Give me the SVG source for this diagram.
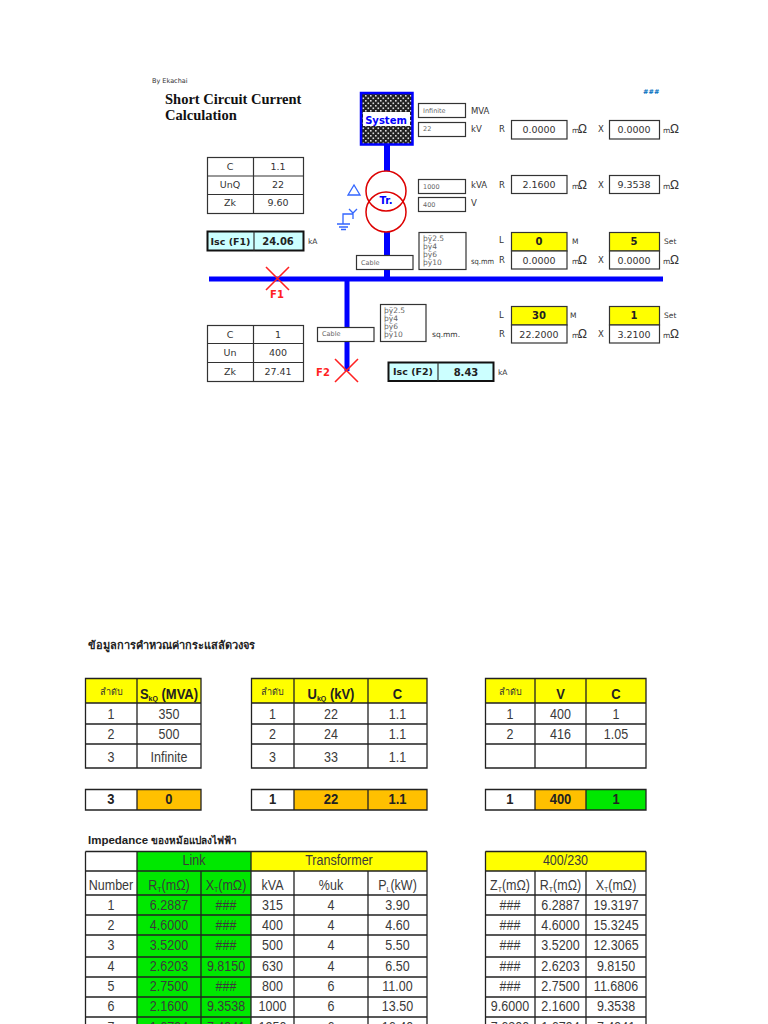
<svg xmlns="http://www.w3.org/2000/svg" width="768" height="1024" viewBox="0 0 768 1024">
<style>
text{font-family:"DejaVu Sans",Verdana,sans-serif;fill:#333}
.c{text-anchor:middle}
.l{font-size:8.5px}
.v{font-size:9.5px;text-anchor:middle}
.s{font-size:6.5px;fill:#666}
.p{font-size:7.5px;fill:#666}
.u{font-size:7.5px}
.om{font-size:12px;font-family:"Liberation Sans",Arial,sans-serif}
.b{fill:#fff;stroke:#333;stroke-width:1.2}
.y{fill:#ff0;stroke:#333;stroke-width:1.2}
.i{fill:#ccffff;stroke:#111;stroke-width:2}
.in{stroke:#333;stroke-width:1.2}
.isc{font-size:9.5px;font-weight:bold;fill:#222;text-anchor:middle}
.iv{font-size:10px;font-weight:bold;fill:#222;text-anchor:middle}
.bus{stroke:#00f;fill:none}
.x{stroke:#f22;stroke-width:1.6}
.f{font-size:10px;font-weight:bold;fill:#f22;text-anchor:middle}
.g{fill:none;stroke:#d00;stroke-width:1.5}
.sym{fill:none;stroke:#36f;stroke-width:1.3}
.g1{fill:#fff}.yf{fill:#ff0}.or{fill:#ffc000}.gr{fill:#00e800}
.grid{stroke:#222;stroke-width:1.3;fill:none}
.t,.h,.tb{transform-box:fill-box;transform-origin:center;transform:scaleY(1.15)}
.t{font-family:"Liberation Sans",Arial,sans-serif;font-size:12.5px;text-anchor:middle;fill:#3a3a3a}
.h{font-family:"Liberation Sans",Arial,sans-serif;font-size:13px;font-weight:bold;text-anchor:middle;fill:#222}
.k{font-family:"Noto Sans",sans-serif;font-size:9px;text-anchor:middle;fill:#333}
.tb{font-family:"Liberation Sans",Arial,sans-serif;font-size:13px;font-weight:bold;text-anchor:middle;fill:#222}
.d{font-size:7px;baseline-shift:-2px}
</style>
<defs>
<pattern id="hatch" width="5" height="5" patternUnits="userSpaceOnUse">
<rect width="5" height="5" fill="#222"/>
<rect x="0" y="0" width="1.6" height="1.6" fill="#ddd"/>
<rect x="2.5" y="2.5" width="1.6" height="1.6" fill="#ddd"/>
</pattern>
</defs>

<text x="152" y="83" font-size="6.500">By Ekachai</text>
<text x="643" y="94" font-size="6.500" font-weight="bold" style="fill:#0070c0">###</text>
<g id="title"><text x="165" y="104" style="font-family:'Liberation Serif','Times New Roman',serif;font-size:14.500px;font-weight:bold;fill:#111">Short Circuit Current</text>
<text x="165" y="120" style="font-family:'Liberation Serif','Times New Roman',serif;font-size:14.500px;font-weight:bold;fill:#111">Calculation</text></g>

<g id="connectors">
<path class="bus" stroke-width="6" d="M387 145V171M387 232V279"/>
<path class="bus" stroke-width="5" d="M209 279H663M347 279V371"/>
</g>

<g id="system">
<rect x="361" y="93" width="51.500" height="51.500" fill="url(#hatch)" stroke="#00f" stroke-width="2.500"/>
<rect x="363" y="112" width="47" height="14" fill="#fff"/>
<text x="386" y="124" class="c" font-size="10" font-weight="bold" style="fill:#00f">System</text>
</g>

<g id="transformer">
<circle class="g" cx="386" cy="191" r="20"/>
<circle class="g" cx="386" cy="212" r="20"/>
<text x="386" y="204" class="c" font-size="10" font-weight="bold" style="fill:#00f">Tr.</text>
<path class="sym" d="M348 195H360L354 185ZM343 224V214H353M349 209L353 213L357 209M353 213V219"/>
<path class="sym" d="M337 224H350M339 227H348M341 229.500H346"/>
</g>

<g id="table-f1">
<rect class="b" x="207.500" y="157.500" width="96" height="56"/>
<path class="in" d="M253.500 157.500V213.500M207.500 176H303.500M207.500 194.500H303.500"/>
<text class="v" x="230" y="170">C</text><text class="v" x="278" y="170">1.1</text>
<text class="v" x="230" y="188">UnQ</text><text class="v" x="278" y="188">22</text>
<text class="v" x="230" y="206">Zk</text><text class="v" x="278" y="206">9.60</text>
</g>
<g id="isc-f1">
<rect class="i" x="207.500" y="231.500" width="96" height="19"/>
<path class="in" d="M254 231.500V250.500"/>
<text class="isc" x="230.500" y="245">Isc (F1)</text><text class="iv" x="278" y="245">24.06</text>
<text class="u" x="308" y="244">kA</text>
</g>
<g id="fault-f1">
<path class="x" d="M266 267L289 290M289 267L266 290"/>
<text class="f" x="277" y="298">F1</text>
</g>
<g id="table-f2">
<rect class="b" x="207.500" y="325.500" width="96" height="56"/>
<path class="in" d="M253.500 325.500V381.500M207.500 343.500H303.500M207.500 362.500H303.500"/>
<text class="v" x="230" y="338">C</text><text class="v" x="278" y="338">1</text>
<text class="v" x="230" y="356">Un</text><text class="v" x="278" y="356">400</text>
<text class="v" x="230" y="375">Zk</text><text class="v" x="278" y="375">27.41</text>
</g>
<g id="fault-f2">
<path class="x" d="M335 359L358 382M358 359L335 382"/>
<text class="f" x="323" y="376">F2</text>
</g>
<g id="isc-f2">
<rect class="i" x="388.500" y="362.500" width="105" height="18.500"/>
<path class="in" d="M438 362.500V381"/>
<text class="isc" x="413" y="375">Isc (F2)</text><text class="iv" x="466" y="376">8.43</text>
<text class="u" x="498" y="375">kA</text>
</g>

<g id="source-inputs">
<rect class="b" x="418.500" y="103.500" width="47" height="14"/><text class="s" x="423" y="113">Infinite</text>
<rect class="b" x="418.500" y="122.500" width="47" height="14"/><text class="s" x="423" y="131">22</text>
<text class="l" x="471" y="114">MVA</text><text class="l" x="471" y="132">kV</text>
</g>
<g id="source-rx">
<text class="l" x="499" y="132">R</text><rect class="b" x="511.500" y="120.500" width="55.500" height="18.500"/><text class="v" x="539" y="133">0.0000</text>
<text class="u" x="572" y="133">m</text><text class="om" x="578" y="133">Ω</text>
<text class="l" x="598" y="132">X</text><rect class="b" x="609.500" y="120.500" width="50" height="18.500"/><text class="v" x="634" y="133">0.0000</text>
<text class="u" x="663" y="133">m</text><text class="om" x="670" y="133">Ω</text>
</g>
<g id="transformer-inputs">
<rect class="b" x="418.500" y="179.500" width="47" height="14"/><text class="s" x="423" y="188.500">1000</text>
<rect class="b" x="418.500" y="197.500" width="47" height="14"/><text class="s" x="423" y="207">400</text>
<text class="l" x="471" y="188">kVA</text><text class="l" x="471" y="206">V</text>
</g>
<g id="transformer-rx">
<text class="l" x="499" y="188">R</text><rect class="b" x="511.500" y="175.500" width="55.500" height="18"/><text class="v" x="539" y="188">2.1600</text>
<text class="u" x="572" y="189">m</text><text class="om" x="578" y="189">Ω</text>
<text class="l" x="598" y="188">X</text><rect class="b" x="609.500" y="175.500" width="50" height="18"/><text class="v" x="634" y="188">9.3538</text>
<text class="u" x="663" y="189">m</text><text class="om" x="670" y="189">Ω</text>
</g>
<g id="cable-1">
<rect class="b" x="356.500" y="255.500" width="56.500" height="14"/><text class="s" x="361" y="265">Cable</text>
<rect class="b" x="419" y="232.500" width="47" height="37"/>
<text class="p" x="423" y="241">þÿ2.5</text><text class="p" x="423" y="249">þÿ4</text><text class="p" x="423" y="257">þÿ6</text><text class="p" x="423" y="265">þÿ10</text>
<text class="u" x="471" y="264" textLength="23" lengthAdjust="spacingAndGlyphs">sq.mm</text>
<text class="l" x="499" y="243">L</text><text class="l" x="499" y="263">R</text>
<rect class="y" x="511.500" y="232.500" width="55.500" height="18.500"/><rect class="b" x="511.500" y="251" width="55.500" height="18"/>
<text class="iv" x="539" y="245">0</text><text class="v" x="539" y="264">0.0000</text>
<text class="u" x="572" y="244">M</text><text class="u" x="572" y="264">m</text><text class="om" x="578" y="264">Ω</text>
<text class="l" x="598" y="263">X</text>
<rect class="y" x="609.500" y="232.500" width="50" height="18.500"/><rect class="b" x="609.500" y="251" width="50" height="18"/>
<text class="iv" x="634" y="245">5</text><text class="v" x="634" y="264">0.0000</text>
<text class="u" x="664" y="244">Set</text><text class="u" x="663" y="264">m</text><text class="om" x="670" y="264">Ω</text>
</g>
<g id="cable-2">
<rect class="b" x="317.500" y="327.500" width="56.500" height="14"/><text class="s" x="322" y="336">Cable</text>
<rect class="b" x="380.500" y="304.500" width="45.500" height="37"/>
<text class="p" x="384" y="313">þÿ2.5</text><text class="p" x="384" y="321">þÿ4</text><text class="p" x="384" y="329">þÿ6</text><text class="p" x="384" y="337">þÿ10</text>
<text class="u" x="432" y="337">sq.mm.</text>
<text class="l" x="499" y="318">L</text><text class="l" x="499" y="337">R</text>
<rect class="y" x="511.500" y="306.500" width="55.500" height="18.500"/><rect class="b" x="511.500" y="325" width="55.500" height="18"/>
<text class="iv" x="539" y="319">30</text><text class="v" x="539" y="338">22.2000</text>
<text class="u" x="570" y="318">M</text><text class="u" x="572" y="338">m</text><text class="om" x="578" y="338">Ω</text>
<text class="l" x="598" y="337">X</text>
<rect class="y" x="609.500" y="306.500" width="50" height="18.500"/><rect class="b" x="609.500" y="325" width="50" height="18"/>
<text class="iv" x="634" y="319">1</text><text class="v" x="634" y="338">3.2100</text>
<text class="u" x="664" y="318">Set</text><text class="u" x="663" y="338">m</text><text class="om" x="670" y="338">Ω</text>
</g>

<text x="88" y="649" style="font-family:'Noto Sans',sans-serif;font-size:11px;font-weight:bold;fill:#222">ข้อมูลการคำหวณค่ากระแสลัดวงจร</text>

<g id="table-s">
<rect class="yf" x="85" y="678" width="116" height="25"/>
<path class="grid" d="M85.500 678.500H201V768H85.500ZM137 678.500V768M85.500 703H201M85.500 724H201M85.500 744H201"/>
<text class="k" x="111" y="695">ลำดับ</text>
<text class="h" x="169" y="698">S<tspan class="d">kQ</tspan> (MVA)</text>
<text class="t" x="111" y="718">1</text><text class="t" x="169" y="718">350</text>
<text class="t" x="111" y="738">2</text><text class="t" x="169" y="738">500</text>
<text class="t" x="111" y="761">3</text><text class="t" x="169" y="761">Infinite</text>
</g>
<g id="table-u">
<rect class="yf" x="251" y="678" width="176" height="25"/>
<path class="grid" d="M251.500 678.500H427V768H251.500ZM294 678.500V768M368 678.500V768M251.500 703H427M251.500 724H427M251.500 744H427"/>
<text class="k" x="272.500" y="695">ลำดับ</text>
<text class="h" x="331" y="698">U<tspan class="d">kQ</tspan> (kV)</text><text class="h" x="397.500" y="698">C</text>
<text class="t" x="272.500" y="718">1</text><text class="t" x="331" y="718">22</text><text class="t" x="397.500" y="718">1.1</text>
<text class="t" x="272.500" y="738">2</text><text class="t" x="331" y="738">24</text><text class="t" x="397.500" y="738">1.1</text>
<text class="t" x="272.500" y="761">3</text><text class="t" x="331" y="761">33</text><text class="t" x="397.500" y="761">1.1</text>
</g>
<g id="table-v">
<rect class="yf" x="485" y="678" width="161" height="25"/>
<path class="grid" d="M485.500 678.500H646V768H485.500ZM535 678.500V768M586 678.500V768M485.500 703H646M485.500 724H646M485.500 744H646"/>
<text class="k" x="510" y="695">ลำดับ</text>
<text class="h" x="560.500" y="698">V</text><text class="h" x="616" y="698">C</text>
<text class="t" x="510" y="718">1</text><text class="t" x="560.500" y="718">400</text><text class="t" x="616" y="718">1</text>
<text class="t" x="510" y="738">2</text><text class="t" x="560.500" y="738">416</text><text class="t" x="616" y="738">1.05</text>
</g>
<g id="select-s">
<rect class="or" x="137" y="789" width="64" height="21"/>
<path class="grid" d="M85.500 789.500H201V810H85.500ZM137 789.500V810"/>
<text class="tb" x="111" y="803">3</text><text class="tb" x="169" y="803">0</text>
</g>
<g id="select-u">
<rect class="or" x="294" y="789" width="133" height="21"/>
<path class="grid" d="M251.500 789.500H427V810H251.500ZM294 789.500V810M368 789.500V810"/>
<text class="tb" x="272.500" y="803">1</text><text class="tb" x="331" y="803">22</text><text class="tb" x="397.500" y="803">1.1</text>
</g>
<g id="select-v">
<rect class="or" x="535" y="789" width="51" height="21"/><rect class="gr" x="586" y="789" width="60" height="21"/>
<path class="grid" d="M485.500 789.500H646V810H485.500ZM535 789.500V810M586 789.500V810"/>
<text class="tb" x="510" y="803">1</text><text class="tb" x="560.500" y="803">400</text><text class="tb" x="616" y="803">1</text>
</g>

<text x="88" y="844" style="font-family:'Liberation Sans',Arial,sans-serif;font-size:11.500px;font-weight:bold;fill:#222">Impedance<tspan style="font-family:'Noto Sans',sans-serif;font-size:10px"> ของหม้อแปลงไฟฟ้า</tspan></text>

<g id="table-impedance">
<rect class="gr" x="137" y="851" width="114" height="173"/>
<rect class="yf" x="251" y="851" width="176" height="20"/>
<path class="grid" d="M85.500 851.500H427M85.500 871H427M85.500 895H427M85.500 915H427M85.500 935H427M85.500 957H427M85.500 977H427M85.500 997H427M85.500 1017H427M85.500 851.500V1024M137 851.500V1024M251 851.500V1024M427 851.500V1024M201 871V1024M294 871V1024M368 871V1024"/>
<text class="t" x="194" y="864">Link</text><text class="t" x="339" y="864">Transformer</text>
<text class="t" x="111" y="889">Number</text>
<text class="t" x="169" y="889">R<tspan class="d">T</tspan>(mΩ)</text><text class="t" x="226" y="889">X<tspan class="d">T</tspan>(mΩ)</text>
<text class="t" x="272.500" y="889">kVA</text><text class="t" x="331" y="889">%uk</text><text class="t" x="397.500" y="889">P<tspan class="d">L</tspan>(kW)</text>
<text class="t" x="111" y="909">1</text><text class="t" x="169" y="909">6.2887</text><text class="t" x="226" y="909">###</text><text class="t" x="272.500" y="909">315</text><text class="t" x="331" y="909">4</text><text class="t" x="397.500" y="909">3.90</text>
<text class="t" x="111" y="929">2</text><text class="t" x="169" y="929">4.6000</text><text class="t" x="226" y="929">###</text><text class="t" x="272.500" y="929">400</text><text class="t" x="331" y="929">4</text><text class="t" x="397.500" y="929">4.60</text>
<text class="t" x="111" y="949">3</text><text class="t" x="169" y="949">3.5200</text><text class="t" x="226" y="949">###</text><text class="t" x="272.500" y="949">500</text><text class="t" x="331" y="949">4</text><text class="t" x="397.500" y="949">5.50</text>
<text class="t" x="111" y="970">4</text><text class="t" x="169" y="970">2.6203</text><text class="t" x="226" y="970">9.8150</text><text class="t" x="272.500" y="970">630</text><text class="t" x="331" y="970">4</text><text class="t" x="397.500" y="970">6.50</text>
<text class="t" x="111" y="990">5</text><text class="t" x="169" y="990">2.7500</text><text class="t" x="226" y="990">###</text><text class="t" x="272.500" y="990">800</text><text class="t" x="331" y="990">6</text><text class="t" x="397.500" y="990">11.00</text>
<text class="t" x="111" y="1010">6</text><text class="t" x="169" y="1010">2.1600</text><text class="t" x="226" y="1010">9.3538</text><text class="t" x="272.500" y="1010">1000</text><text class="t" x="331" y="1010">6</text><text class="t" x="397.500" y="1010">13.50</text>
<text class="t" x="111" y="1031">7</text><text class="t" x="169" y="1031">1.6794</text><text class="t" x="226" y="1031">7.4941</text><text class="t" x="272.500" y="1031">1250</text><text class="t" x="331" y="1031">6</text><text class="t" x="397.500" y="1031">16.40</text>
</g>
<g id="table-400-230">
<rect class="yf" x="485" y="851" width="161" height="20"/>
<path class="grid" d="M485.500 851.500H646M485.500 871H646M485.500 895H646M485.500 915H646M485.500 935H646M485.500 957H646M485.500 977H646M485.500 997H646M485.500 1017H646M485.500 851.500V1024M646 851.500V1024M535 871V1024M586 871V1024"/>
<text class="t" x="565.500" y="864">400/230</text>
<text class="t" x="510" y="889">Z<tspan class="d">T</tspan>(mΩ)</text><text class="t" x="560.500" y="889">R<tspan class="d">T</tspan>(mΩ)</text><text class="t" x="616" y="889">X<tspan class="d">T</tspan>(mΩ)</text>
<text class="t" x="510" y="909">###</text><text class="t" x="560.500" y="909">6.2887</text><text class="t" x="616" y="909">19.3197</text>
<text class="t" x="510" y="929">###</text><text class="t" x="560.500" y="929">4.6000</text><text class="t" x="616" y="929">15.3245</text>
<text class="t" x="510" y="949">###</text><text class="t" x="560.500" y="949">3.5200</text><text class="t" x="616" y="949">12.3065</text>
<text class="t" x="510" y="970">###</text><text class="t" x="560.500" y="970">2.6203</text><text class="t" x="616" y="970">9.8150</text>
<text class="t" x="510" y="990">###</text><text class="t" x="560.500" y="990">2.7500</text><text class="t" x="616" y="990">11.6806</text>
<text class="t" x="510" y="1010">9.6000</text><text class="t" x="560.500" y="1010">2.1600</text><text class="t" x="616" y="1010">9.3538</text>
<text class="t" x="510" y="1031">7.6800</text><text class="t" x="560.500" y="1031">1.6794</text><text class="t" x="616" y="1031">7.4941</text>
</g>
</svg>
